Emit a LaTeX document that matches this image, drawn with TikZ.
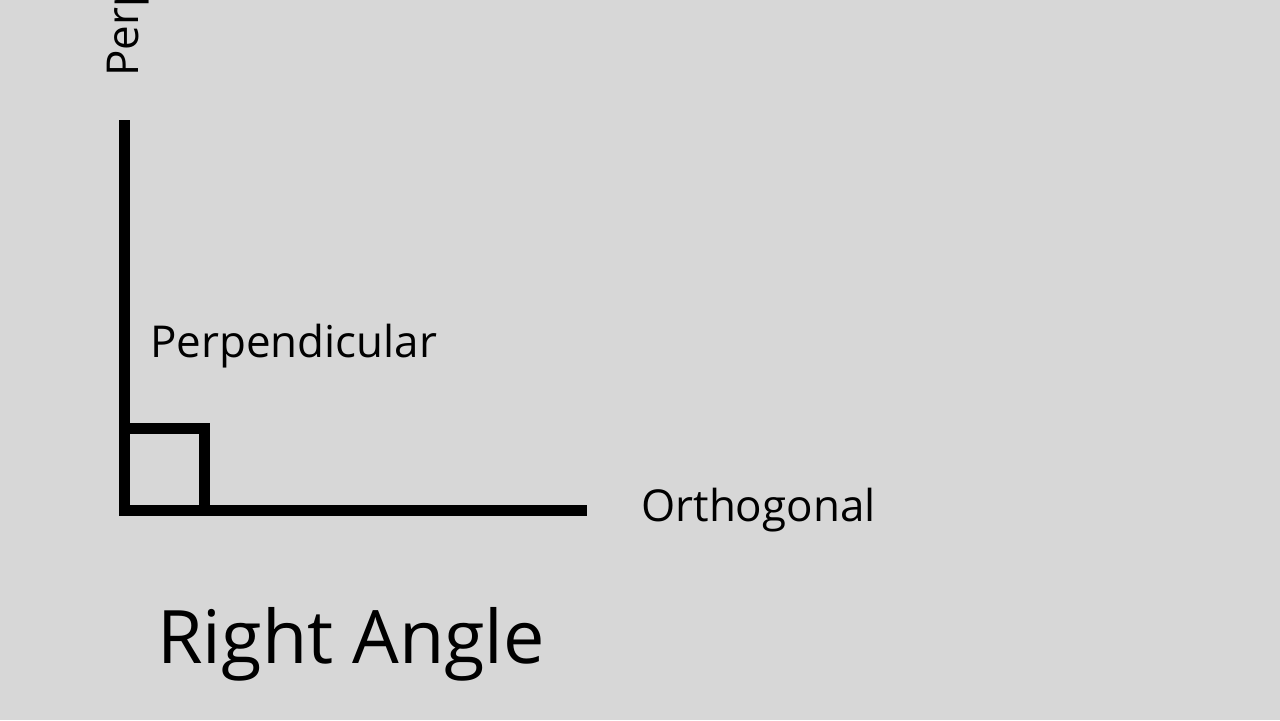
\documentclass[tikz,border=0pt]{standalone}
\usepackage{fontspec}
\setmainfont{Open Sans}
\usetikzlibrary{positioning}
\definecolor{bggray}{RGB}{215,215,215}

\begin{document}
\begin{tikzpicture}[x=0.02cm,y=-0.02cm,
    leg/.style={line width=0.22cm,line join=miter,line cap=butt},
    lbl/.style={inner sep=0pt,font=\fontsize{25}{30}\selectfont},
    title/.style={inner sep=0pt,font=\fontsize{42}{50}\selectfont}]

  \useasboundingbox (0,0) rectangle (1280,720);
  \fill[bggray] (0,0) rectangle (1280,720);
  \clip (0,0) rectangle (1280,720);

  \coordinate (O)   at (124,510);
  \coordinate (Top) at (124,120);
  \coordinate (End) at (587,510);
  \coordinate (Sq)  at (204,428);

  % the two legs and the corner mark
  \draw[leg] (Top) -- (O) -- (End);
  \draw[leg] (O |- Sq) -- (Sq) -- (Sq |- O);

  \node[lbl,anchor=base west]          (perp)  at (150,357) {Perpendicular};
  \node[lbl,anchor=base west]          (orth)  at (641,521) {Orthogonal};
  \node[lbl,anchor=base west,rotate=90] (side) at (138,77)  {Perp};
  \node[title,anchor=base west]        (name)  at (157,663) {Right Angle};
\end{tikzpicture}
\end{document}
